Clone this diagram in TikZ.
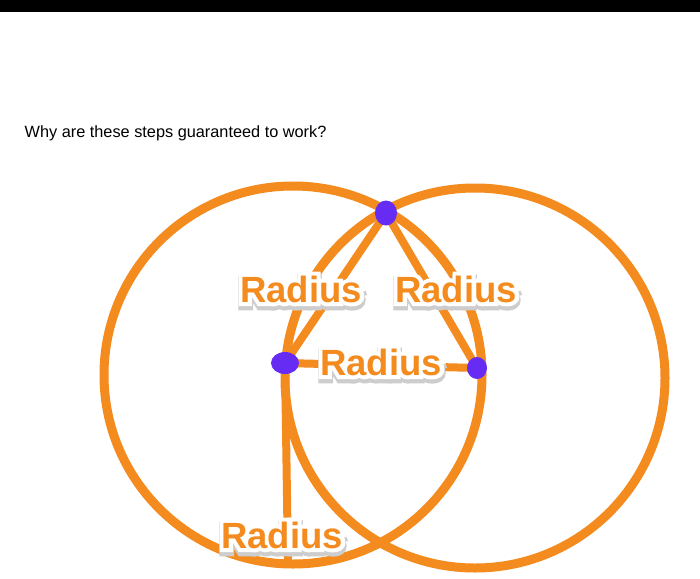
\documentclass[tikz,border=0pt]{standalone}
\usepackage{fontspec}
\setmainfont{Liberation Sans}
\newfontfamily\lblfont{Liberation Sans Bold}
\newfontfamily\halofont{Liberation Sans Bold}[FakeBold=22]
\newfontfamily\shadfont{Liberation Sans Bold}[FakeBold=26]
\definecolor{orng}{RGB}{243,139,30}
\definecolor{purp}{RGB}{102,44,244}
\definecolor{shad}{RGB}{205,205,205}
\newcommand\shcopy[3]{\makebox[0pt][l]{\hspace*{#1}\raisebox{#2}{#3}}}
\newcommand\lbl[1]{\shcopy{0.5pt}{-3.5pt}{\shadfont\textcolor{shad}{#1}}\shcopy{0pt}{0pt}{\halofont\textcolor{white}{#1}}\textcolor{orng}{#1}}
\begin{document}
\begin{tikzpicture}[x=1pt,y=-1pt,
  circ/.style={draw=orng,line width=9pt},
  radline/.style={draw=orng,line width=8pt},
  lab/.style={anchor=base,inner sep=0pt,font=\fontsize{36.5}{40}\selectfont\lblfont},
  dotc/.style={fill=purp}]
\useasboundingbox (0,0) rectangle (700,578);
\fill[black] (0,0) rectangle (700,12.5);
\node[anchor=base west,inner sep=0pt,font=\fontsize{16.3}{19}\selectfont] (title) at (24.5,137) {Why are these steps guaranteed to work?};
% circles
\draw[circ] (293,375) circle[radius=189pt];
\draw[circ] (475,378) circle[radius=190pt];
% points
\coordinate (T) at (386,213);
\coordinate (L) at (285,363);
\coordinate (R) at (477,368);
\coordinate (B) at (288,564);
% radius segments
\draw[radline] (T) -- (L);
\draw[radline] (T) -- (R);
\draw[radline] (L) -- (R);
\draw[radline] (L) -- (B);
% dots
\fill[dotc] (T) ellipse[x radius=11pt,y radius=12.5pt];
\fill[dotc] (L) ellipse[x radius=14pt,y radius=11pt];
\fill[dotc] (R) ellipse[x radius=10pt,y radius=11pt];
% labels
\node[lab] (r1) at (301,302) {\lbl{Radius}};
\node[lab] (r2) at (456,302) {\lbl{Radius}};
\node[lab] (r3) at (381,375) {\lbl{Radius}};
\node[lab] (r4) at (282,548) {\lbl{Radius}};
\end{tikzpicture}
\end{document}
